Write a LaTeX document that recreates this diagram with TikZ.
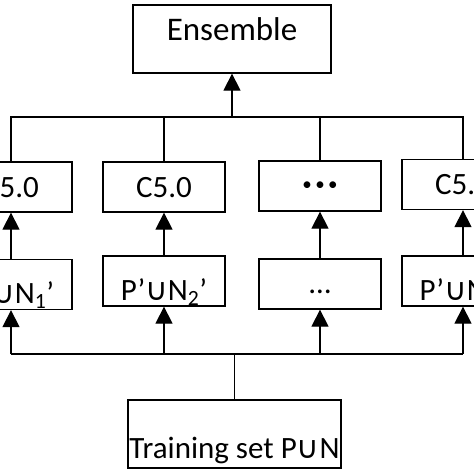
\documentclass[tikz,border=0pt]{standalone}
\usepackage{fontspec}
\setmainfont{Carlito}
\newfontfamily\symfont{DejaVu Sans}
\newcommand{\un}{{\symfont ∪}}
\usetikzlibrary{arrows.meta}
\begin{document}
\begin{tikzpicture}[x=1pt,y=-1pt,line width=1.3pt,
 box/.style={draw,inner sep=0pt,minimum width=122pt,minimum height=50pt,font=\fontsize{31}{36}\selectfont},
 modelbox/.style={box,text height=20pt,text depth=0pt},
 setbox/.style={box,text height=38pt,text depth=0pt},
 arr/.style={-{Triangle[width=17pt,length=17pt]}}]
 \clip (0,0) rectangle (474,474);

 \node[draw,inner sep=0pt,minimum width=198pt,minimum height=68pt,text height=22pt,text depth=20pt,font=\fontsize{33}{38}\selectfont] (ens) at (232,39) {Ensemble};

 \node[modelbox] (c1) at (11,187) {C5.0};
 \node[modelbox] (c2) at (164,187) {C5.0};
 \node[box,text height=8pt,text depth=0pt,font=\fontsize{19}{22}\selectfont] (c3) at (320,186) {•\kern3.5pt•\kern3.5pt•};
 \node[modelbox] (c4) at (463,184.5) {C5.0};

 \node[setbox] (d1) at (11,284.5) {P’\un N\textsubscript{1}’};
 \node[setbox] (d2) at (164,281) {P’\un N\textsubscript{2}’};
 \node[box,text height=18pt,text depth=0pt] (d3) at (320,284) {…};
 \node[setbox] (d4) at (463,281) {P’\un N\textsubscript{n}’};

 \node[draw,inner sep=0pt,minimum width=213pt,minimum height=68pt,text height=48pt,text depth=0pt,font=\fontsize{31}{36}\selectfont] (train) at (234.5,434) {Training set P\un N};

 % upper bus
 \coordinate (top) at (232,117);
 \draw (c1.north) -- (c1.north |- top) -- (c4.north |- top) -- (c4.north);
 \draw (c2.north) -- (c2.north |- top);
 \draw (c3.north) -- (c3.north |- top);
 \draw[arr] (top) -- (ens.south);

 \draw[arr] (d1.north) -- (c1.south);
 \draw[arr] (d2.north) -- (c2.south);
 \draw[arr] (d3.north) -- (c3.south);
 \draw[arr] (d4.north) -- (c4.south);

 % lower bus
 \coordinate (bot) at (235,354);
 \draw (train.north) -- (train.north |- bot);
 \draw (bot -| d1.south) -- (bot -| d4.south);
 \draw[arr] (bot -| d1.south) -- (d1.south);
 \draw[arr] (bot -| d2.south) -- (d2.south);
 \draw[arr] (bot -| d3.south) -- (d3.south);
 \draw[arr] (bot -| d4.south) -- (d4.south);
\end{tikzpicture}
\end{document}
